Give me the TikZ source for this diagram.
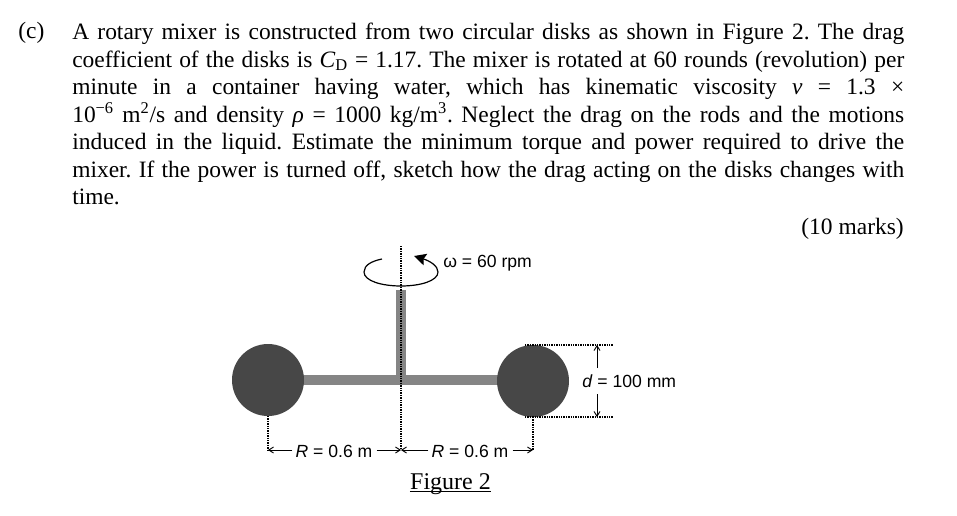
\documentclass[tikz,border=0pt]{standalone}
\usepackage{fontspec}
\setmainfont{Liberation Serif}
\setsansfont{Liberation Sans}
\usetikzlibrary{arrows.meta}
\newcommand{\sups}[1]{\textsuperscript{#1}}
\tikzset{
  x=0.75pt,y=-0.75pt,
  dotline/.style={black,line width=1.2pt,dash pattern=on 1pt off 0.8pt},
  dimarrow/.style={black,line width=0.7pt,-{Straight Barb[length=3.5pt,width=4.5pt]}},
  disc/.style={circle,draw=none,fill=black!72,minimum size=54pt,inner sep=0pt},
  rod/.style={fill=black!48,draw=none,inner sep=0pt},
  dimlabel/.style={font=\sffamily\fontsize{13.2}{15}\selectfont,inner sep=0pt},
  para/.style={font=\frenchspacing\fontsize{17.6}{20.6}\selectfont,inner sep=0pt},
}
\begin{document}
\begin{tikzpicture}
\useasboundingbox (0,0) rectangle (957,515);
% text
\node[para,anchor=base west] (part) at (18,38) {(c)};
\node[para,anchor=north west,text width=624pt,align=justify] (body) at (72,23) {%
A rotary mixer is constructed from two circular disks as shown in Figure 2. The drag\linebreak
coefficient of the disks is \textit{C}\textsubscript{D} = 1.17. The mixer is rotated at 60 rounds (revolution) per\linebreak
minute in a container having water, which has kinematic viscosity \textit{ν} = 1.3 ×\linebreak
10\sups{−6} m\sups{2}/s and density \textit{ρ} = 1000 kg/m\sups{3}. Neglect the drag on the rods and the motions\linebreak
induced in the liquid. Estimate the minimum torque and power required to drive the\linebreak
mixer. If the power is turned off, sketch how the drag acting on the disks changes with\linebreak
time.};
\node[para,anchor=base east] (marks) at (904,234) {(10 marks)};
% rods and discs
\node[rod,minimum width=7.5pt,minimum height=67pt,anchor=south] (shaft) at (401,380) {};
\node[rod,minimum width=180pt,minimum height=7.5pt] (bar) at (400,380) {};
\node[disc] (ldisc) at (268,380) {};
\node[disc] (rdisc) at (533,381) {};
% axis
\coordinate (axtop) at (401,246);
\coordinate (axbot) at (401,450);
\draw[dotline] (axtop) -- (axbot);
% rotation
\coordinate (rotstart) at (382,259);
\draw[black,line width=0.9pt,-{Stealth[length=9pt,width=9pt,inset=1.5pt]}] (rotstart)
  .. controls (372,261) and (364,265) .. (364,272)
  .. controls (364,281) and (382,286) .. (401,286)
  .. controls (420,286) and (438,281) .. (438,272)
  .. controls (438,266) and (430,261) .. (414,256);
\node[dimlabel,anchor=base west] (omega) at (443,267) {ω = 60 rpm};
% d dimension
\coordinate (dtopa) at (525,345);
\coordinate (dtopb) at (613,345);
\coordinate (dbota) at (525,417);
\coordinate (dbotb) at (613,417);
\draw[dotline] (dtopa) -- (dtopb);
\draw[dotline] (dbota) -- (dbotb);
\node[dimlabel,anchor=base west] (dlab) at (582,387) {\textit{d} = 100 mm};
\coordinate (dtop) at (597,345);
\coordinate (dbot) at (597,417);
\coordinate (dup) at (597,368);
\coordinate (ddown) at (597,394);
\draw[dimarrow] (dup) -- (dtop);
\draw[dimarrow] (ddown) -- (dbot);
% R dimensions
\coordinate (lp) at (268,416);
\coordinate (lc) at (268,450);
\coordinate (rp) at (533,417);
\coordinate (rc) at (533,450);
\draw[dotline] (lp) -- (lc);
\draw[dotline] (rp) -- (rc);
\node[dimlabel,anchor=center] (r1) at (334,451) {\textit{R} = 0.6 m};
\node[dimlabel,anchor=center] (r2) at (470,451) {\textit{R} = 0.6 m};
\draw[dimarrow] (r1.west) ++(-3,-1) -- (lc);
\draw[dimarrow] (r1.east) ++(4,-1) -- (axbot);
\draw[dimarrow] (r2.west) ++(-3,-1) -- (axbot);
\draw[dimarrow] (r2.east) ++(4,-1) -- (rc);
% caption
\node[para,font=\fontsize{18}{21}\selectfont,anchor=base] (fig) at (450.5,489) {Figure 2};
\draw[black,line width=1pt] ([yshift=-2.1pt]fig.base west) -- ([yshift=-2.1pt]fig.base east);
\end{tikzpicture}
\end{document}
